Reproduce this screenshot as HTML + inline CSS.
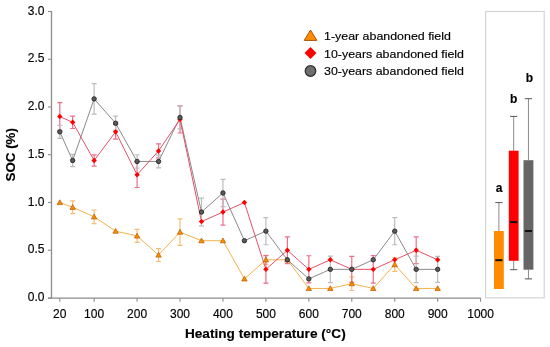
<!DOCTYPE html>
<html><head><meta charset="utf-8"><style>
html,body{margin:0;padding:0;background:#fff;}
body{width:550px;height:347px;overflow:hidden;}
svg{display:block;}
text{font-family:"Liberation Sans",Arial,sans-serif;fill:#000;stroke:#000;stroke-width:0.15px;}
.tk{font-size:12px;}
.ttl{font-size:13px;font-weight:bold;}
.lg{font-size:11.5px;}
.ab{font-size:12px;font-weight:bold;}
</style></head><body>
<svg width="550" height="347" viewBox="0 0 550 347">
<rect width="550" height="347" fill="#fff"/>
<line x1="51.5" y1="11" x2="51.5" y2="298.5" stroke="#8c8c8c" stroke-width="1.3"/>
<line x1="48" y1="298.2" x2="481" y2="298.2" stroke="#8c8c8c" stroke-width="1.3"/>
<line x1="48" y1="298.00" x2="51.5" y2="298.00" stroke="#8c8c8c" stroke-width="1.1"/>
<text transform="translate(44.5,301.20) scale(1.0,1)" text-anchor="end" class="tk">0.0</text>
<line x1="48" y1="250.25" x2="51.5" y2="250.25" stroke="#8c8c8c" stroke-width="1.1"/>
<text transform="translate(44.5,253.45) scale(1.0,1)" text-anchor="end" class="tk">0.5</text>
<line x1="48" y1="202.50" x2="51.5" y2="202.50" stroke="#8c8c8c" stroke-width="1.1"/>
<text transform="translate(44.5,205.70) scale(1.0,1)" text-anchor="end" class="tk">1.0</text>
<line x1="48" y1="154.75" x2="51.5" y2="154.75" stroke="#8c8c8c" stroke-width="1.1"/>
<text transform="translate(44.5,157.95) scale(1.0,1)" text-anchor="end" class="tk">1.5</text>
<line x1="48" y1="107.00" x2="51.5" y2="107.00" stroke="#8c8c8c" stroke-width="1.1"/>
<text transform="translate(44.5,110.20) scale(1.0,1)" text-anchor="end" class="tk">2.0</text>
<line x1="48" y1="59.25" x2="51.5" y2="59.25" stroke="#8c8c8c" stroke-width="1.1"/>
<text transform="translate(44.5,62.45) scale(1.0,1)" text-anchor="end" class="tk">2.5</text>
<line x1="48" y1="11.50" x2="51.5" y2="11.50" stroke="#8c8c8c" stroke-width="1.1"/>
<text transform="translate(44.5,14.70) scale(1.0,1)" text-anchor="end" class="tk">3.0</text>
<line x1="59.79" y1="298.2" x2="59.79" y2="301.7" stroke="#8c8c8c" stroke-width="1.1"/>
<text transform="translate(59.79,317.8) scale(1.0,1)" text-anchor="middle" class="tk">20</text>
<line x1="94.14" y1="298.2" x2="94.14" y2="301.7" stroke="#8c8c8c" stroke-width="1.1"/>
<text transform="translate(94.14,317.8) scale(1.0,1)" text-anchor="middle" class="tk">100</text>
<line x1="137.08" y1="298.2" x2="137.08" y2="301.7" stroke="#8c8c8c" stroke-width="1.1"/>
<text transform="translate(137.08,317.8) scale(1.0,1)" text-anchor="middle" class="tk">200</text>
<line x1="180.02" y1="298.2" x2="180.02" y2="301.7" stroke="#8c8c8c" stroke-width="1.1"/>
<text transform="translate(180.02,317.8) scale(1.0,1)" text-anchor="middle" class="tk">300</text>
<line x1="222.96" y1="298.2" x2="222.96" y2="301.7" stroke="#8c8c8c" stroke-width="1.1"/>
<text transform="translate(222.96,317.8) scale(1.0,1)" text-anchor="middle" class="tk">400</text>
<line x1="265.90" y1="298.2" x2="265.90" y2="301.7" stroke="#8c8c8c" stroke-width="1.1"/>
<text transform="translate(265.90,317.8) scale(1.0,1)" text-anchor="middle" class="tk">500</text>
<line x1="308.84" y1="298.2" x2="308.84" y2="301.7" stroke="#8c8c8c" stroke-width="1.1"/>
<text transform="translate(308.84,317.8) scale(1.0,1)" text-anchor="middle" class="tk">600</text>
<line x1="351.78" y1="298.2" x2="351.78" y2="301.7" stroke="#8c8c8c" stroke-width="1.1"/>
<text transform="translate(351.78,317.8) scale(1.0,1)" text-anchor="middle" class="tk">700</text>
<line x1="394.72" y1="298.2" x2="394.72" y2="301.7" stroke="#8c8c8c" stroke-width="1.1"/>
<text transform="translate(394.72,317.8) scale(1.0,1)" text-anchor="middle" class="tk">800</text>
<line x1="437.66" y1="298.2" x2="437.66" y2="301.7" stroke="#8c8c8c" stroke-width="1.1"/>
<text transform="translate(437.66,317.8) scale(1.0,1)" text-anchor="middle" class="tk">900</text>
<line x1="480.60" y1="298.2" x2="480.60" y2="301.7" stroke="#8c8c8c" stroke-width="1.1"/>
<text transform="translate(480.60,317.8) scale(1.0,1)" text-anchor="middle" class="tk">1000</text>
<text transform="translate(265.3,337.7) scale(1.05,1)" text-anchor="middle" class="ttl">Heating temperature (°C)</text>
<text transform="translate(15.0,154.8) rotate(-90) scale(1.115,1)" text-anchor="middle" class="ttl" style="font-size:12px">SOC (%)</text>
<path d="M72.67 200.88V213.68M70.17 200.88h5M70.17 213.68h5" stroke="#f5be78" stroke-width="1.2" fill="none"/>
<path d="M94.14 210.02V223.62M91.64 210.02h5M91.64 223.62h5" stroke="#f5be78" stroke-width="1.2" fill="none"/>
<path d="M137.08 229.43V242.43M134.58 229.43h5M134.58 242.43h5" stroke="#f5be78" stroke-width="1.2" fill="none"/>
<path d="M158.55 248.53V261.52M156.05 248.53h5M156.05 261.52h5" stroke="#f5be78" stroke-width="1.2" fill="none"/>
<path d="M180.02 218.91V245.31M177.52 218.91h5M177.52 245.31h5" stroke="#f5be78" stroke-width="1.2" fill="none"/>
<path d="M265.90 255.30V264.30M263.40 255.30h5M263.40 264.30h5" stroke="#f5be78" stroke-width="1.2" fill="none"/>
<path d="M351.78 276.88V290.48M349.28 276.88h5M349.28 290.48h5" stroke="#f5be78" stroke-width="1.2" fill="none"/>
<path d="M394.72 257.77V271.38M392.22 257.77h5M392.22 271.38h5" stroke="#f5be78" stroke-width="1.2" fill="none"/>
<path d="M59.79 102.65V130.45M57.29 102.65h5M57.29 130.45h5" stroke="#ec6f88" stroke-width="1.2" fill="none"/>
<path d="M72.67 116.08V128.48M70.17 116.08h5M70.17 128.48h5" stroke="#ec6f88" stroke-width="1.2" fill="none"/>
<path d="M94.14 154.88V166.08M91.64 154.88h5M91.64 166.08h5" stroke="#ec6f88" stroke-width="1.2" fill="none"/>
<path d="M115.61 124.63V139.03M113.11 124.63h5M113.11 139.03h5" stroke="#ec6f88" stroke-width="1.2" fill="none"/>
<path d="M137.08 162.11V187.50M134.58 162.11h5M134.58 187.50h5" stroke="#ec6f88" stroke-width="1.2" fill="none"/>
<path d="M158.55 143.93V157.93M156.05 143.93h5M156.05 157.93h5" stroke="#ec6f88" stroke-width="1.2" fill="none"/>
<path d="M180.02 105.81V133.01M177.52 105.81h5M177.52 133.01h5" stroke="#ec6f88" stroke-width="1.2" fill="none"/>
<path d="M222.96 199.05V225.05M220.46 199.05h5M220.46 225.05h5" stroke="#ec6f88" stroke-width="1.2" fill="none"/>
<path d="M265.90 255.65V283.05M263.40 255.65h5M263.40 283.05h5" stroke="#ec6f88" stroke-width="1.2" fill="none"/>
<path d="M287.37 236.85V263.65M284.87 236.85h5M284.87 263.65h5" stroke="#ec6f88" stroke-width="1.2" fill="none"/>
<path d="M308.84 255.75V282.95M306.34 255.75h5M306.34 282.95h5" stroke="#ec6f88" stroke-width="1.2" fill="none"/>
<path d="M351.78 256.35V282.35M349.28 256.35h5M349.28 282.35h5" stroke="#ec6f88" stroke-width="1.2" fill="none"/>
<path d="M373.25 255.55V283.15M370.75 255.55h5M370.75 283.15h5" stroke="#ec6f88" stroke-width="1.2" fill="none"/>
<path d="M416.19 236.95V263.55M413.69 236.95h5M413.69 263.55h5" stroke="#ec6f88" stroke-width="1.2" fill="none"/>
<path d="M59.79 125.33V138.33M57.29 125.33h5M57.29 138.33h5" stroke="#bdbdbd" stroke-width="1.2" fill="none"/>
<path d="M72.67 154.28V166.68M70.17 154.28h5M70.17 166.68h5" stroke="#bdbdbd" stroke-width="1.2" fill="none"/>
<path d="M94.14 83.68V114.08M91.64 83.68h5M91.64 114.08h5" stroke="#bdbdbd" stroke-width="1.2" fill="none"/>
<path d="M115.61 116.13V130.33M113.11 116.13h5M113.11 130.33h5" stroke="#bdbdbd" stroke-width="1.2" fill="none"/>
<path d="M137.08 154.74V168.13M134.58 154.74h5M134.58 168.13h5" stroke="#bdbdbd" stroke-width="1.2" fill="none"/>
<path d="M158.55 155.03V167.84M156.05 155.03h5M156.05 167.84h5" stroke="#bdbdbd" stroke-width="1.2" fill="none"/>
<path d="M180.02 106.20V128.81M177.52 106.20h5M177.52 128.81h5" stroke="#bdbdbd" stroke-width="1.2" fill="none"/>
<path d="M201.49 198.15V225.95M198.99 198.15h5M198.99 225.95h5" stroke="#bdbdbd" stroke-width="1.2" fill="none"/>
<path d="M222.96 179.35V206.55M220.46 179.35h5M220.46 206.55h5" stroke="#bdbdbd" stroke-width="1.2" fill="none"/>
<path d="M265.90 217.55V244.75M263.40 217.55h5M263.40 244.75h5" stroke="#bdbdbd" stroke-width="1.2" fill="none"/>
<path d="M330.31 256.15V282.55M327.81 256.15h5M327.81 282.55h5" stroke="#bdbdbd" stroke-width="1.2" fill="none"/>
<path d="M394.72 217.55V244.75M392.22 217.55h5M392.22 244.75h5" stroke="#bdbdbd" stroke-width="1.2" fill="none"/>
<path d="M416.19 256.05V282.65M413.69 256.05h5M413.69 282.65h5" stroke="#bdbdbd" stroke-width="1.2" fill="none"/>
<path d="M437.66 256.35V282.35M435.16 256.35h5M435.16 282.35h5" stroke="#bdbdbd" stroke-width="1.2" fill="none"/>
<path d="M59.79 202.50 L72.67 207.28 L94.14 216.82 L115.61 231.15 L137.08 235.93 L158.55 255.03 L180.02 232.11 L201.49 240.70 L222.96 240.70 L244.43 278.90 L265.90 259.80 L287.37 259.80 L308.84 288.45 L330.31 288.45 L351.78 283.68 L373.25 288.45 L394.72 264.57 L416.19 288.45 L437.66 288.45" stroke="#f3b24e" stroke-width="1" fill="none"/>
<path d="M59.79 131.83 L72.67 160.48 L94.14 98.88 L115.61 123.23 L137.08 161.44 L158.55 161.44 L180.02 117.50 L201.49 212.05 L222.96 192.95 L244.43 240.70 L265.90 231.15 L287.37 259.80 L308.84 278.90 L330.31 269.35 L351.78 269.35 L373.25 259.80 L394.72 231.15 L416.19 269.35 L437.66 269.35" stroke="#8a8a8a" stroke-width="1" fill="none"/>
<path d="M59.79 116.55 L72.67 122.28 L94.14 160.48 L115.61 131.83 L137.08 174.81 L158.55 150.93 L180.02 119.41 L201.49 221.60 L222.96 212.05 L244.43 202.50 L265.90 269.35 L287.37 250.25 L308.84 269.35 L330.31 259.80 L351.78 269.35 L373.25 269.35 L394.72 259.80 L416.19 250.25 L437.66 259.80" stroke="#e8506a" stroke-width="1" fill="none"/>
<path d="M59.79 199.80L62.49 204.60L57.09 204.60Z" fill="#ff8c00" stroke="#b45a00" stroke-width="0.7"/>
<path d="M72.67 204.58L75.37 209.38L69.97 209.38Z" fill="#ff8c00" stroke="#b45a00" stroke-width="0.7"/>
<path d="M94.14 214.12L96.84 218.92L91.44 218.92Z" fill="#ff8c00" stroke="#b45a00" stroke-width="0.7"/>
<path d="M115.61 228.45L118.31 233.25L112.91 233.25Z" fill="#ff8c00" stroke="#b45a00" stroke-width="0.7"/>
<path d="M137.08 233.23L139.78 238.03L134.38 238.03Z" fill="#ff8c00" stroke="#b45a00" stroke-width="0.7"/>
<path d="M158.55 252.33L161.25 257.12L155.85 257.12Z" fill="#ff8c00" stroke="#b45a00" stroke-width="0.7"/>
<path d="M180.02 229.41L182.72 234.21L177.32 234.21Z" fill="#ff8c00" stroke="#b45a00" stroke-width="0.7"/>
<path d="M201.49 238.00L204.19 242.80L198.79 242.80Z" fill="#ff8c00" stroke="#b45a00" stroke-width="0.7"/>
<path d="M222.96 238.00L225.66 242.80L220.26 242.80Z" fill="#ff8c00" stroke="#b45a00" stroke-width="0.7"/>
<path d="M244.43 276.20L247.13 281.00L241.73 281.00Z" fill="#ff8c00" stroke="#b45a00" stroke-width="0.7"/>
<path d="M265.90 257.10L268.60 261.90L263.20 261.90Z" fill="#ff8c00" stroke="#b45a00" stroke-width="0.7"/>
<path d="M287.37 257.10L290.07 261.90L284.67 261.90Z" fill="#ff8c00" stroke="#b45a00" stroke-width="0.7"/>
<path d="M308.84 285.75L311.54 290.55L306.14 290.55Z" fill="#ff8c00" stroke="#b45a00" stroke-width="0.7"/>
<path d="M330.31 285.75L333.01 290.55L327.61 290.55Z" fill="#ff8c00" stroke="#b45a00" stroke-width="0.7"/>
<path d="M351.78 280.98L354.48 285.78L349.08 285.78Z" fill="#ff8c00" stroke="#b45a00" stroke-width="0.7"/>
<path d="M373.25 285.75L375.95 290.55L370.55 290.55Z" fill="#ff8c00" stroke="#b45a00" stroke-width="0.7"/>
<path d="M394.72 261.88L397.42 266.68L392.02 266.68Z" fill="#ff8c00" stroke="#b45a00" stroke-width="0.7"/>
<path d="M416.19 285.75L418.89 290.55L413.49 290.55Z" fill="#ff8c00" stroke="#b45a00" stroke-width="0.7"/>
<path d="M437.66 285.75L440.36 290.55L434.96 290.55Z" fill="#ff8c00" stroke="#b45a00" stroke-width="0.7"/>
<path d="M59.79 113.85L62.49 116.55L59.79 119.25L57.09 116.55Z" fill="#ff0000"/>
<path d="M72.67 119.58L75.37 122.28L72.67 124.98L69.97 122.28Z" fill="#ff0000"/>
<path d="M94.14 157.78L96.84 160.48L94.14 163.18L91.44 160.48Z" fill="#ff0000"/>
<path d="M115.61 129.13L118.31 131.83L115.61 134.53L112.91 131.83Z" fill="#ff0000"/>
<path d="M137.08 172.11L139.78 174.81L137.08 177.50L134.38 174.81Z" fill="#ff0000"/>
<path d="M158.55 148.23L161.25 150.93L158.55 153.63L155.85 150.93Z" fill="#ff0000"/>
<path d="M180.02 116.71L182.72 119.41L180.02 122.11L177.32 119.41Z" fill="#ff0000"/>
<path d="M201.49 218.90L204.19 221.60L201.49 224.30L198.79 221.60Z" fill="#ff0000"/>
<path d="M222.96 209.35L225.66 212.05L222.96 214.75L220.26 212.05Z" fill="#ff0000"/>
<path d="M244.43 199.80L247.13 202.50L244.43 205.20L241.73 202.50Z" fill="#ff0000"/>
<path d="M265.90 266.65L268.60 269.35L265.90 272.05L263.20 269.35Z" fill="#ff0000"/>
<path d="M287.37 247.55L290.07 250.25L287.37 252.95L284.67 250.25Z" fill="#ff0000"/>
<path d="M308.84 266.65L311.54 269.35L308.84 272.05L306.14 269.35Z" fill="#ff0000"/>
<path d="M330.31 257.10L333.01 259.80L330.31 262.50L327.61 259.80Z" fill="#ff0000"/>
<path d="M351.78 266.65L354.48 269.35L351.78 272.05L349.08 269.35Z" fill="#ff0000"/>
<path d="M373.25 266.65L375.95 269.35L373.25 272.05L370.55 269.35Z" fill="#ff0000"/>
<path d="M394.72 257.10L397.42 259.80L394.72 262.50L392.02 259.80Z" fill="#ff0000"/>
<path d="M416.19 247.55L418.89 250.25L416.19 252.95L413.49 250.25Z" fill="#ff0000"/>
<path d="M437.66 257.10L440.36 259.80L437.66 262.50L434.96 259.80Z" fill="#ff0000"/>
<circle cx="59.79" cy="131.83" r="2.2" fill="#5a5a5a" stroke="#262626" stroke-width="0.9"/>
<circle cx="72.67" cy="160.48" r="2.2" fill="#5a5a5a" stroke="#262626" stroke-width="0.9"/>
<circle cx="94.14" cy="98.88" r="2.2" fill="#5a5a5a" stroke="#262626" stroke-width="0.9"/>
<circle cx="115.61" cy="123.23" r="2.2" fill="#5a5a5a" stroke="#262626" stroke-width="0.9"/>
<circle cx="137.08" cy="161.44" r="2.2" fill="#5a5a5a" stroke="#262626" stroke-width="0.9"/>
<circle cx="158.55" cy="161.44" r="2.2" fill="#5a5a5a" stroke="#262626" stroke-width="0.9"/>
<circle cx="180.02" cy="117.50" r="2.2" fill="#5a5a5a" stroke="#262626" stroke-width="0.9"/>
<circle cx="201.49" cy="212.05" r="2.2" fill="#5a5a5a" stroke="#262626" stroke-width="0.9"/>
<circle cx="222.96" cy="192.95" r="2.2" fill="#5a5a5a" stroke="#262626" stroke-width="0.9"/>
<circle cx="244.43" cy="240.70" r="2.2" fill="#5a5a5a" stroke="#262626" stroke-width="0.9"/>
<circle cx="265.90" cy="231.15" r="2.2" fill="#5a5a5a" stroke="#262626" stroke-width="0.9"/>
<circle cx="287.37" cy="259.80" r="2.2" fill="#5a5a5a" stroke="#262626" stroke-width="0.9"/>
<circle cx="308.84" cy="278.90" r="2.2" fill="#5a5a5a" stroke="#262626" stroke-width="0.9"/>
<circle cx="330.31" cy="269.35" r="2.2" fill="#5a5a5a" stroke="#262626" stroke-width="0.9"/>
<circle cx="351.78" cy="269.35" r="2.2" fill="#5a5a5a" stroke="#262626" stroke-width="0.9"/>
<circle cx="373.25" cy="259.80" r="2.2" fill="#5a5a5a" stroke="#262626" stroke-width="0.9"/>
<circle cx="394.72" cy="231.15" r="2.2" fill="#5a5a5a" stroke="#262626" stroke-width="0.9"/>
<circle cx="416.19" cy="269.35" r="2.2" fill="#5a5a5a" stroke="#262626" stroke-width="0.9"/>
<circle cx="437.66" cy="269.35" r="2.2" fill="#5a5a5a" stroke="#262626" stroke-width="0.9"/>
<path d="M310.5 30L316.8 40.4L304.2 40.4Z" fill="#ff8c00" stroke="#a85200" stroke-width="1"/>
<path d="M310.5 47L316.5 53L310.5 59L304.5 53Z" fill="#ff0000"/>
<circle cx="310.5" cy="71" r="5.3" fill="#6e6e6e" stroke="#2a2a2a" stroke-width="1.2"/>
<text transform="translate(324,40) scale(1.08,1)" class="lg">1-year abandoned field</text>
<text transform="translate(324,57.6) scale(1.08,1)" class="lg">10-years abandoned field</text>
<text transform="translate(324,75.1) scale(1.08,1)" class="lg">30-years abandoned field</text>
<rect x="485.6" y="11.5" width="58.6" height="286.3" fill="none" stroke="#d4d4d4" stroke-width="1.2"/>
<path d="M498.90 202.6V231" stroke="#8a8a8a" stroke-width="1"/><path d="M495.30 202.6h7.2" stroke="#555" stroke-width="1"/><rect x="494" y="231" width="9.800000000000011" height="58" fill="#ff8c00"/><rect x="495.30" y="259.2" width="7.2" height="2" fill="#111"/>
<path d="M513.70 116.4V150.7" stroke="#8a8a8a" stroke-width="1"/><path d="M510.10 116.4h7.2" stroke="#555" stroke-width="1"/><path d="M513.70 260.8V269.7" stroke="#8a8a8a" stroke-width="1"/><path d="M510.10 269.7h7.2" stroke="#555" stroke-width="1"/><rect x="508.8" y="150.7" width="9.800000000000011" height="110.10000000000002" fill="#ff0000"/><rect x="510.10" y="221.1" width="7.2" height="2" fill="#111"/>
<path d="M528.45 98.7V160.2" stroke="#8a8a8a" stroke-width="1"/><path d="M524.85 98.7h7.2" stroke="#555" stroke-width="1"/><path d="M528.45 269.7V278.9" stroke="#8a8a8a" stroke-width="1"/><path d="M524.85 278.9h7.2" stroke="#555" stroke-width="1"/><rect x="523.5" y="160.2" width="9.899999999999977" height="109.5" fill="#666666"/><rect x="524.85" y="230" width="7.2" height="2" fill="#111"/>
<text x="499" y="191.8" text-anchor="middle" class="ab">a</text>
<text x="513.7" y="103" text-anchor="middle" class="ab">b</text>
<text x="529.3" y="81.8" text-anchor="middle" class="ab">b</text>
</svg>
</body></html>
